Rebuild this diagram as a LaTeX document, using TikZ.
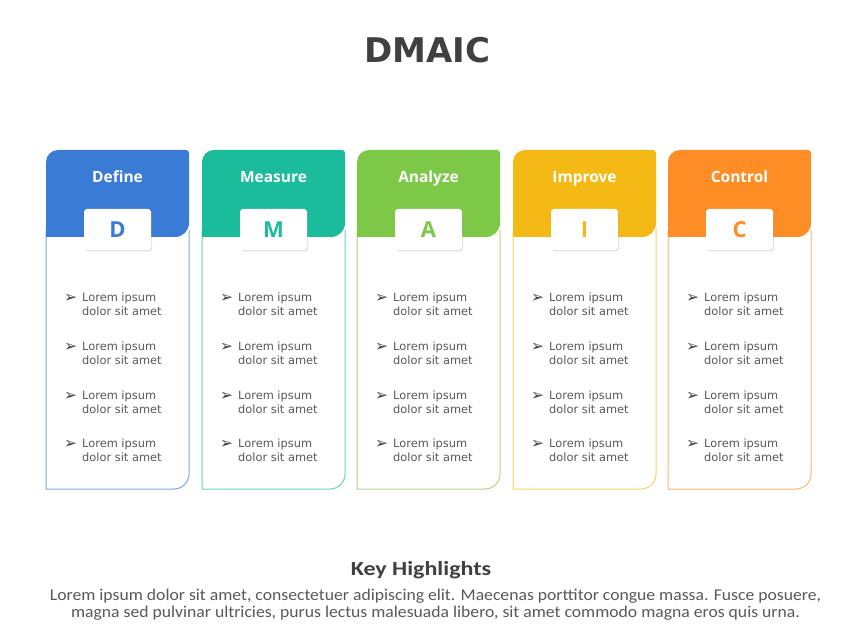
\documentclass[tikz,border=0pt]{standalone}
\usepackage{fontspec}
\usetikzlibrary{shadows}
\newfontfamily\hdfont{Open Sans}
\newfontfamily\bodyfont{DejaVu Sans}
\newfontfamily\keyfont{Carlito}[FakeStretch=1.07]
\newfontfamily\keyhfont{Carlito}[FakeStretch=1.2]
\definecolor{cD}{HTML}{3A7BD5}
\definecolor{cM}{HTML}{1ABC9C}
\definecolor{cA}{HTML}{7DC846}
\definecolor{cI}{HTML}{F5B915}
\definecolor{cC}{HTML}{FD8D24}
\definecolor{txt}{HTML}{404040}
\definecolor{bodytxt}{HTML}{595959}
\tikzset{
  hdtext/.style={text=white,font=\hdfont\bfseries\fontsize{15.5}{18}\selectfont,text height=11pt,text depth=3.5pt,inner sep=0pt},
  letterbox/.style={fill=white,rounded corners=3pt,minimum width=67pt,minimum height=41pt,inner sep=0pt,
    drop shadow={opacity=0.22,shadow xshift=1pt,shadow yshift=-1.5pt}},
  lettertext/.style={font=\hdfont\bfseries\fontsize{22}{24}\selectfont},
  bullet/.style={text=txt,font=\bodyfont\fontsize{15.5}{16}\selectfont,inner sep=0pt},
  itemtext/.style={text=bodytxt,font=\bodyfont\fontsize{11.4}{14}\selectfont,align=left,anchor=west,inner sep=0pt},
}
\begin{document}
\begin{tikzpicture}[x=1pt,y=1pt]
\useasboundingbox[fill=white] (0,0) rectangle (853,640);
\node[text=txt,font=\bodyfont\bfseries\fontsize{34}{36}\selectfont] (title) at (427,590) {DMAIC};
\foreach \x/\name/\ltr/\col [count=\n] in {46/Define/D/cD,202/Measure/M/cM,357/Analyze/A/cA,513/Improve/I/cI,668/Control/C/cC}{
  % outline
  \draw[\col!65,line width=1pt] ({\x+143},410) -- ({\x+143},166) arc[start angle=0,end angle=-90,radius=15] -- (\x,151) -- (\x,410);
  % header
  \fill[\col] (\x,403) -- (\x,478) arc[start angle=180,end angle=90,radius=12] -- ({\x+140},490) arc[start angle=90,end angle=0,radius=3] -- ({\x+143},417) arc[start angle=0,end angle=-90,radius=14] -- cycle;
  \node[hdtext] (h\n) at ({\x+71.5},461) {\name};
  \node[letterbox] (lb\n) at ({\x+71.5},410.5) {};
  \node[lettertext,text=\col] (l\n) at (lb\n) {\ltr};
  \foreach \yy [count=\m] in {336,287,238,190}{
    \node[bullet] (a\n\m) at ({\x+24.5},{\yy+6}) {➢};
    \node[itemtext] (t\n\m) at ({\x+36},\yy) {Lorem ipsum\\dolor sit amet};
  }
}
\node[text=txt,font=\keyhfont\bfseries\fontsize{20}{22}\selectfont] (kh) at (421,70) {Key Highlights};
\node[text=bodytxt,font=\keyfont\fontsize{16.5}{17}\selectfont,align=center] (kt) at (435.5,35.5) {Lorem ipsum dolor sit amet, consectetuer adipiscing elit. Maecenas porttitor congue massa. Fusce posuere,\\magna sed pulvinar ultricies, purus lectus malesuada libero, sit amet commodo magna eros quis urna.};
\end{tikzpicture}
\end{document}
